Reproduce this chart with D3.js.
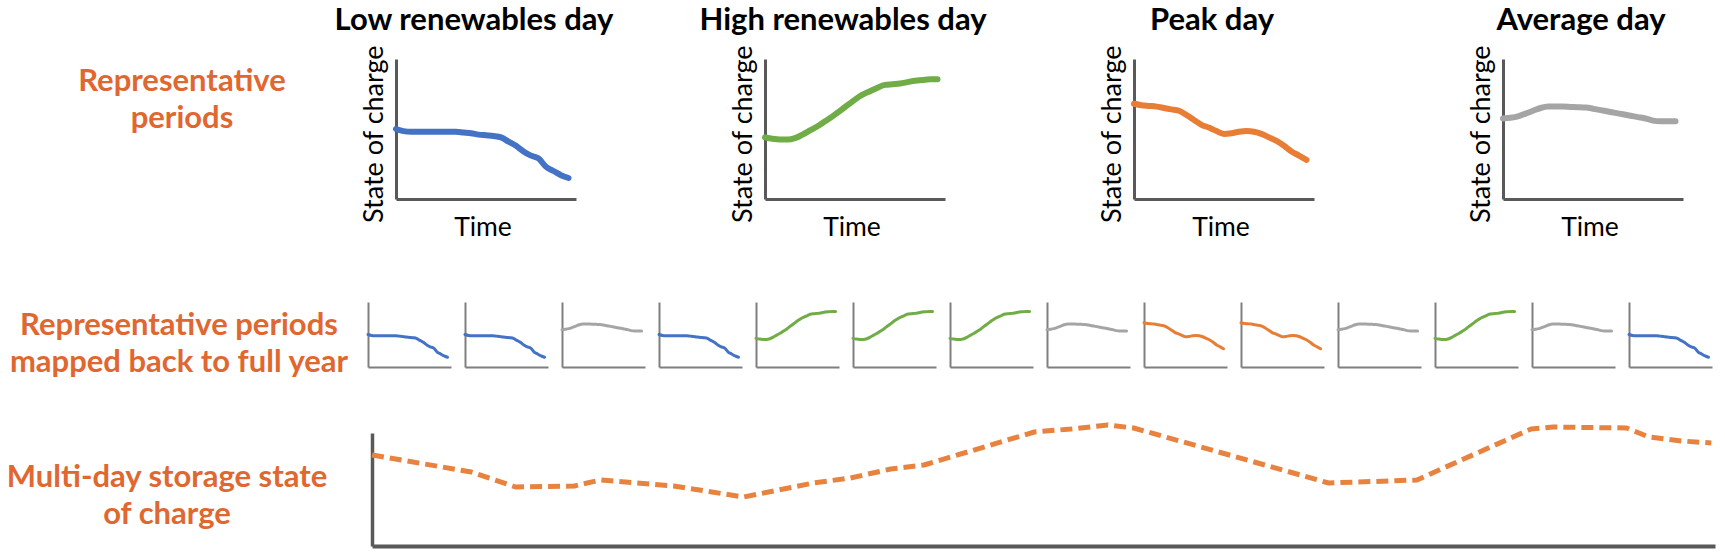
<!DOCTYPE html>
<html><head><meta charset="utf-8">
<script src="https://cdn.jsdelivr.net/npm/d3@7"></script>
<style>body{margin:0;background:#fff}svg{display:block}</style>
</head><body><svg id="c" width="1725" height="555"></svg>
<script>
// ---------- DATA ----------
const dayTitles = ["Low renewables day", "High renewables day", "Peak day", "Average day"];
const dayKeys = ["low", "high", "peak", "avg"];
const hours = d3.range(24);
const lowSoc  = [50,48.5,48,48,48,48,48,48,48,47.5,47,46,45.5,45,44,41,38,34,31,29,23,20,17,15];
const highSoc = [44,43,42.5,42.5,43.5,46,49,52,55.5,59,63,67,71,74.5,77,79.5,81.5,82,82.5,83.5,84.5,85,85.5,85.5];
const peakSoc = [68,67,66.5,66,65,64,63,60,56.5,53,51,48.5,46.5,47,48,48.5,48,46.5,44,41.5,38,34,31,28];
const avgSoc  = [57.5,58,59,61,63,65,66,66,66,65.8,65.6,65.3,64.5,63.5,62.5,61.5,60.5,59.5,58.5,57.5,56,55.5,55.5,55.5];
const yearSequence = ["low","low","avg","low","high","high","high","avg","peak","peak","avg","high","avg","low"];
const multiDayDays = [0,27,39,55,62,82,101,120,130,141,150,180,190,200,207,260,284,290,315,321,341,347,356,364];
const multiDaySoc  = [91,74,59,60,66,60,49,63,68,77,81,114,117,121,118,63,66,76,117,119,118,109,105,103];
const rowLabels = [["Representative", "periods"], ["Representative periods", "mapped back to full year"], ["Multi-day storage state", "of charge"]];
const axisYLabel = "State of charge";
const axisXLabel = "Time";

// ---------- STYLE ----------
const socByKey = {low: lowSoc, high: highSoc, peak: peakSoc, avg: avgSoc};
const colorByKey = {low: "#4472C4", high: "#70AD47", peak: "#E87D36", avg: "#A5A5A5"};
const labelColor = "#E0672F";
const font = "Lato, 'Open Sans', sans-serif";

const svg = d3.select("#c");

// ---------- ROW LABELS ----------
const labelPos = [{x:182, y:[91,128]}, {x:179, y:[335,372]}, {x:167, y:[487,524]}];
rowLabels.forEach((lines, i) => {
  const t = svg.append("text").attr("text-anchor", "middle")
    .attr("font-family", font).attr("font-weight", 700).attr("font-size", 31)
    .attr("fill", labelColor);
  lines.forEach((ln, j) => t.append("tspan").attr("x", labelPos[i].x).attr("y", labelPos[i].y[j]).text(ln));
});

// ---------- TOP ROW: representative periods ----------
const bigW = 180, bigTop = 59, bigBottom = 199;
const bigX0 = d3.scaleLinear().domain([0, 3]).range([396, 1503]);
const hx = d3.scaleLinear().domain([0, 24]).range([0, bigW]);
const hy = d3.scaleLinear().domain([0, 100]).range([bigBottom - bigTop, 0]);

dayKeys.forEach((k, i) => {
  const g = svg.append("g").attr("transform", `translate(${bigX0(i)},${bigTop})`);
  g.append("g").call(d3.axisLeft(hy).ticks(0).tickSizeOuter(0))
    .call(s => s.select(".domain").attr("stroke", "#595959").attr("stroke-width", 3));
  g.append("g").attr("transform", `translate(0,${hy(0)})`).call(d3.axisBottom(hx).ticks(0).tickSizeOuter(0))
    .call(s => s.select(".domain").attr("stroke", "#595959").attr("stroke-width", 3));
  g.append("path").datum(hours)
    .attr("d", d3.line().x(h => hx(h)).y(h => hy(socByKey[k][h])).curve(d3.curveMonotoneX))
    .attr("fill", "none").attr("stroke", colorByKey[k]).attr("stroke-width", 6)
    .attr("stroke-linejoin", "round").attr("stroke-linecap", "round");
  // title
  svg.append("text").attr("x", bigX0(i) + bigW / 2 - 12).attr("y", 30)
    .attr("text-anchor", "middle").attr("font-family", font).attr("font-weight", 700)
    .attr("font-size", 31).attr("fill", "#000").text(dayTitles[i]);
  // axis labels
  g.append("text").attr("transform", `translate(-13,${223 - bigTop}) rotate(-90)`)
    .attr("font-family", font).attr("font-size", 27).attr("fill", "#000").text(axisYLabel);
  g.append("text").attr("x", bigW / 2 - 3).attr("y", 236 - bigTop).attr("text-anchor", "middle")
    .attr("font-family", font).attr("font-size", 26.5).attr("fill", "#000").text(axisXLabel);
});

// ---------- MIDDLE ROW: mapped back to year ----------
const smallW = 83, smallTop = 302, smallBottom = 367;
const smallX0 = d3.scaleLinear().domain([0, yearSequence.length - 1]).range([368, 1629]);
const sx = d3.scaleLinear().domain([0, 24]).range([0, smallW]);
const sy = d3.scaleLinear().domain([0, 100]).range([smallBottom - smallTop, 0]);
yearSequence.forEach((k, i) => {
  const g = svg.append("g").attr("transform", `translate(${smallX0(i)},${smallTop})`);
  g.append("g").call(d3.axisLeft(sy).ticks(0).tickSizeOuter(0))
    .call(s => s.select(".domain").attr("stroke", "#7F7F7F").attr("stroke-width", 2));
  g.append("g").attr("transform", `translate(0,${sy(0)})`).call(d3.axisBottom(sx).ticks(0).tickSizeOuter(0))
    .call(s => s.select(".domain").attr("stroke", "#7F7F7F").attr("stroke-width", 2));
  g.append("path").datum(hours)
    .attr("d", d3.line().x(h => sx(h)).y(h => sy(socByKey[k][h])).curve(d3.curveMonotoneX))
    .attr("fill", "none").attr("stroke", colorByKey[k]).attr("stroke-width", 3)
    .attr("stroke-linejoin", "round").attr("stroke-linecap", "round");
});

// ---------- BOTTOM ROW: multi-day SOC ----------
const mx = d3.scaleLinear().domain([0, 365]).range([372, 1715]);
const my = d3.scaleLinear().domain([0, 113]).range([546, 433]);
svg.append("g").attr("transform", `translate(${mx(0)},0)`).call(d3.axisLeft(my).ticks(0).tickSizeOuter(0))
  .call(s => s.select(".domain").attr("stroke", "#595959").attr("stroke-width", 3.5));
svg.append("g").attr("transform", `translate(0,${my(0)})`).call(d3.axisBottom(mx).ticks(0).tickSizeOuter(0))
  .call(s => s.select(".domain").attr("stroke", "#595959").attr("stroke-width", 4));
svg.append("path").datum(multiDayDays.map((d, i) => [d, multiDaySoc[i]]))
  .attr("d", d3.line().x(d => mx(d[0])).y(d => my(d[1])))
  .attr("fill", "none").attr("stroke", "#E8823F").attr("stroke-width", 5)
  .attr("stroke-dasharray", "12,6").attr("stroke-linejoin", "round");
</script>
</body></html>
